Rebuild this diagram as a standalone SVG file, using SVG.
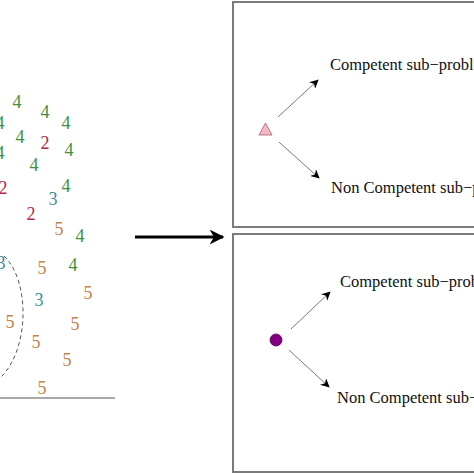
<svg xmlns="http://www.w3.org/2000/svg" width="474" height="474" viewBox="0 0 474 474">
<defs>
<marker id="ah" viewBox="0 0 10 10" refX="9" refY="5" markerWidth="10" markerHeight="9" markerUnits="userSpaceOnUse" orient="auto">
<path d="M0,0 L10,5 L0,10 L3,5 Z" fill="#000"/>
</marker>
<marker id="bigah" viewBox="0 0 10 10" refX="9" refY="5" markerWidth="5" markerHeight="5" orient="auto">
<path d="M0,0 L10,5 L0,10 L3,5 Z" fill="#000"/>
</marker>
</defs>
<style>
.n{font-size:18px;text-anchor:middle}
.g{fill:#3f8f3f}.r{fill:#b5284a}.t{fill:#3f8c9c}.o{fill:#c4834a}
.lbl{font-size:16.5px;fill:#111}
.box{fill:#fff;stroke:#7a7a7a;stroke-width:2}
.c{stroke:#777;stroke-width:1;fill:none;marker-end:url(#ah)}
</style>
<rect width="474" height="474" fill="#fff"/>
<g id="scatter" font-family="Liberation Serif, DejaVu Serif, serif">
<text class="n g" x="17" y="108">4</text>
<text class="n g" x="45" y="118">4</text>
<text class="n g" x="0" y="129">4</text>
<text class="n g" x="66" y="129">4</text>
<text class="n g" x="20" y="143">4</text>
<text class="n r" x="45" y="149">2</text>
<text class="n g" x="0" y="159">4</text>
<text class="n g" x="69" y="156">4</text>
<text class="n g" x="34" y="171">4</text>
<text class="n r" x="3" y="194">2</text>
<text class="n g" x="66" y="192">4</text>
<text class="n t" x="53" y="205">3</text>
<text class="n r" x="31" y="220">2</text>
<text class="n o" x="59" y="235">5</text>
<text class="n g" x="80" y="242">4</text>
<text class="n t" x="1" y="269">3</text>
<text class="n o" x="42" y="274">5</text>
<text class="n g" x="73" y="271">4</text>
<text class="n o" x="88" y="299">5</text>
<text class="n t" x="39" y="306">3</text>
<text class="n o" x="10" y="328">5</text>
<text class="n o" x="75" y="330">5</text>
<text class="n o" x="36" y="348">5</text>
<text class="n o" x="67" y="366">5</text>
<text class="n o" x="42" y="394">5</text>
<path d="M4,256 C30,280 30,350 0,378" fill="none" stroke="#555" stroke-width="1" stroke-dasharray="4,3"/>
<line x1="0" y1="398" x2="115" y2="398" stroke="#555" stroke-width="1.2"/>
</g>
<g id="panel-top" font-family="Liberation Serif, DejaVu Serif, serif">
<rect class="box" x="233" y="2" width="250" height="225"/>
<polygon points="265.5,123 272,135 259,135" fill="#f5b8c2" stroke="#a0606e" stroke-width="0.8"/>
<text class="lbl" x="330" y="70">Competent sub−problem</text>
<text class="lbl" x="331" y="193">Non Competent sub−problem</text>
</g>
<g id="panel-bottom" font-family="Liberation Serif, DejaVu Serif, serif">
<rect class="box" x="233" y="234" width="250" height="238"/>
<circle cx="276" cy="340" r="6" fill="#800080" stroke="#5a005a" stroke-width="0.8"/>
<text class="lbl" x="340" y="287">Competent sub−problem</text>
<text class="lbl" x="337" y="403">Non Competent sub−problem</text>
</g>
<g id="connectors">
<line x1="135" y1="237" x2="223" y2="237" stroke="#000" stroke-width="3" marker-end="url(#bigah)"/>
<line class="c" x1="278" y1="117" x2="318" y2="80"/>
<line class="c" x1="279" y1="142" x2="319" y2="178"/>
<line class="c" x1="291" y1="329" x2="330" y2="292"/>
<line class="c" x1="289" y1="350" x2="329" y2="387"/>
</g>
</svg>
